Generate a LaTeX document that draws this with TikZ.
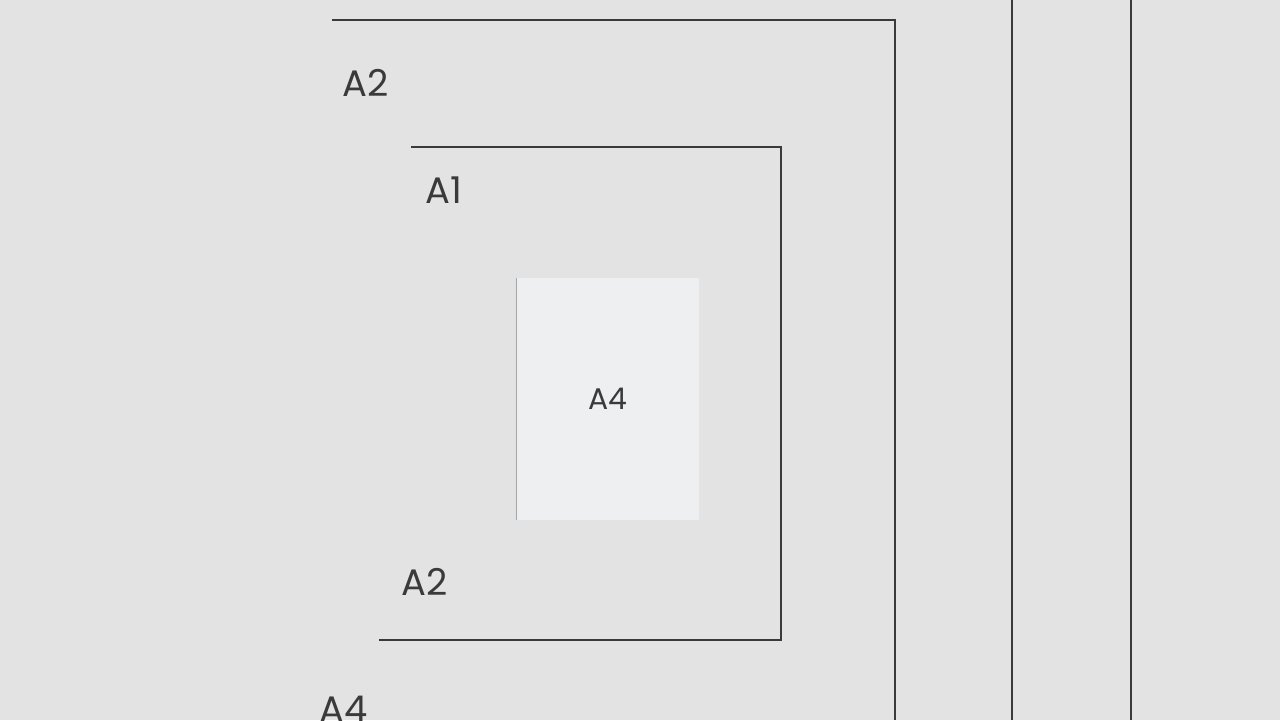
\documentclass[tikz,border=0pt]{standalone}
\usepackage{fontspec}
\setmainfont{Poppins}
\usepackage{tikz}
\usetikzlibrary{calc}
\definecolor{bgpaper}{HTML}{E3E3E3}
\definecolor{sheetfill}{HTML}{EEEFF0}
\definecolor{edgegrey}{HTML}{3A3A3A}
\tikzset{
    sizeline/.style={edgegrey, line width=1.1pt},
    sizelabel/.style={text=edgegrey, font=\fontsize{21}{21}\selectfont, inner sep=0pt},
    sheetlabel/.style={text=edgegrey, font=\fontsize{17}{17}\selectfont, inner sep=0pt},
}

\begin{document}
\begin{tikzpicture}[x=0.02cm, y=-0.02cm]
    \fill[bgpaper] (0,0) rectangle (1280,720);
    \useasboundingbox (0,0) rectangle (1280,720);

    % outer sheet edge
    \draw[sizeline] (332,20) -- (895,20) -- (895,720);
    % inner sheet edge
    \draw[sizeline] (411,147) -- (781,147) -- (781,640) -- (379,640);
    % edges further out
    \draw[sizeline] (1012,0) -- (1012,720);
    \draw[sizeline] (1131,0) -- (1131,720);

    % the small sheet
    \node[fill=sheetfill, minimum width=3.64cm, minimum height=4.84cm, inner sep=0pt] (sheet) at (608,399) {};
    \draw[gray!70, line width=0.8pt] (sheet.south west) -- (sheet.north west);
    \node[sheetlabel] (lblsheet) at (sheet.center) {A4};

    \node[sizelabel] (lbltop) at (366,83) {A2};
    \node[sizelabel] (lblone) at (444,190) {A1};
    \node[sizelabel] (lblbottom) at (425,582) {A2};
    \node[sizelabel] (lblcorner) at (344,709) {A4};
\end{tikzpicture}
\end{document}
